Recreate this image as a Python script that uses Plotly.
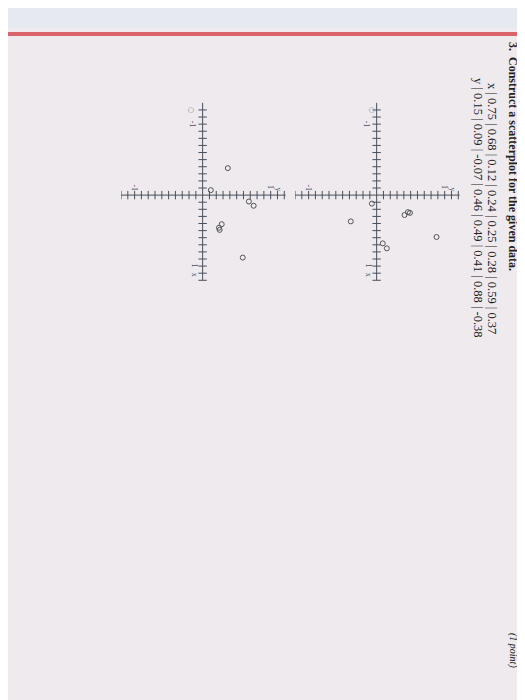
import numpy as np
import plotly.graph_objects as go

# data from the table in the question
x_vals = [0.75, 0.68, 0.12, 0.24, 0.25, 0.28, 0.59, 0.37]
y_vals = [0.15, 0.09, -0.07, 0.46, 0.49, 0.41, 0.88, -0.38]
x_labels = ["0.75", "0.68", "0.12", "0.24", "0.25", "0.28", "0.59", "0.37"]
y_labels = ["0.15", "0.09", "-0.07", "0.46", "0.49", "0.41", "0.88", "-0.38"]

W, H = 525, 700
fig = go.Figure()

# the photo is rotated: screen-horizontal = data y, screen-down = data x
ink = "#4a4f5c"
ticks = np.round(np.arange(-1.2, 1.21, 0.1), 2)
ticks = ticks[ticks != 0]

def add_plot(n, px_vals, py_vals):
    xa, ya = ("x", "y") if n == 1 else ("x2", "y2")
    # axes with tick marks
    fig.add_trace(go.Scatter(x=[-1.2, 1.22], y=[0, 0], mode="lines", line=dict(color=ink, width=1),
                             xaxis=xa, yaxis=ya, hoverinfo="skip"))
    fig.add_trace(go.Scatter(x=[0, 0], y=[-1.3, 1.2], mode="lines", line=dict(color=ink, width=1),
                             xaxis=xa, yaxis=ya, hoverinfo="skip"))
    fig.add_trace(go.Scatter(x=ticks, y=[0] * len(ticks), mode="markers",
                             marker=dict(symbol="line-ns", size=6, line=dict(color=ink, width=1)),
                             xaxis=xa, yaxis=ya, hoverinfo="skip"))
    fig.add_trace(go.Scatter(x=[0] * len(ticks), y=ticks, mode="markers",
                             marker=dict(symbol="line-ew", size=6, line=dict(color=ink, width=1)),
                             xaxis=xa, yaxis=ya, hoverinfo="skip"))
    fig.add_trace(go.Scatter(x=px_vals, y=py_vals, mode="markers",
                             marker=dict(symbol="circle-open", size=5, color="#555"),
                             xaxis=xa, yaxis=ya))
    for tx, ty, t in [(1, -0.12, "1"), (1.12, -0.08, "y"), (-0.12, 1, "1"), (-0.12, 1.13, "x"), (-0.15, -1, "-1"), (-1, -0.1, "-1")]:
        fig.add_annotation(x=tx, y=ty, xref=xa, yref=ya, text=t, showarrow=False, textangle=90,
                           xanchor="center", yanchor="middle",
                           font=dict(size=8, color=ink, family="Liberation Serif"))

# correct plot (top) and swapped plot (bottom)
add_plot(1, y_vals, x_vals)
add_plot(2, x_vals, y_vals)

ax = dict(visible=False, range=[-1.2, 1.24], fixedrange=True)
ay = dict(visible=False, range=[1.21, -1.34], fixedrange=True)
fig.update_layout(
    width=W, height=H, margin=dict(l=0, r=0, t=0, b=0), showlegend=False,
    paper_bgcolor="#eeeaee", plot_bgcolor="rgba(0,0,0,0)",
    xaxis=dict(ax, domain=[287 / W, 453 / W]), yaxis=dict(ay, domain=[1 - 273 / H, 1 - 92 / H]),
    xaxis2=dict(ax, domain=[113 / W, 279 / W]), yaxis2=dict(ay, domain=[1 - 273 / H, 1 - 92 / H]),
)

# screen frame
fig.add_shape(type="rect", xref="paper", yref="paper", x0=0, x1=1, y0=1 - 20 / H, y1=1,
              fillcolor="#e6e9ef", line_width=0, layer="below")
fig.add_shape(type="rect", xref="paper", yref="paper", x0=-0.02, x1=518 / W, y0=-0.02, y1=1 - 26 / H,
              line=dict(color="#d9646c", width=4), layer="below")

serif = "Liberation Serif"
def rot_text(px, py, text, size):
    fig.add_annotation(x=px / W, y=1 - py / H, xref="paper", yref="paper", showarrow=False, textangle=90,
                       xanchor="center", yanchor="middle", text=text,
                       font=dict(size=size, color="#222", family=serif))

rot_text(505, 148, "<b>3.  Construct a scatterplot for the given data.</b>", 12)
rot_text(505, 642, "<i>(1 point)</i>", 10)
rot_text(484, 200, "x | " + " | ".join(x_labels), 12.5)
rot_text(470, 200, "y | " + " | ".join(y_labels), 12.5)
for cx in [370, 183]:
    fig.add_annotation(x=cx / W, y=1 - 90 / H, xref="paper", yref="paper", showarrow=False,
                       text="○", font=dict(size=13, color="#999"))

fig.write_html("out.html")
